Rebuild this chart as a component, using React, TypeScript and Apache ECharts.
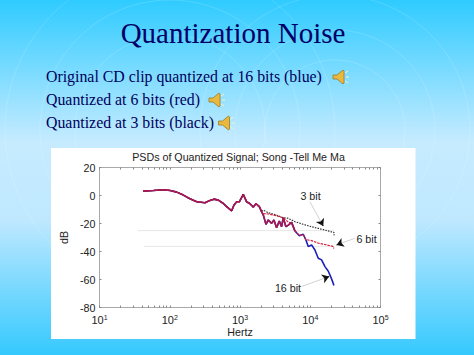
import React, { useEffect, useRef } from "react";
import * as echarts from "echarts";

const slideTitle = "Quantization Noise";
const bullets = [
  "Original CD clip quantized at 16 bits (blue)",
  "Quantized at 6 bits (red)",
  "Quantized at 3 bits (black)",
];
const chartTitle = "PSDs of Quantized Signal; Song -Tell Me Ma";
const xName = "Hertz";
const yName = "dB";
const xTickValues = [
  10, 20, 30, 40, 50, 60, 70, 80, 90,
  100, 200, 300, 400, 500, 600, 700, 800, 900,
  1000, 2000, 3000, 4000, 5000, 6000, 7000, 8000, 9000,
  10000, 20000, 30000, 40000, 50000, 60000, 70000, 80000, 90000, 100000,
];

const sharedLow: [number, number][] = [
  [42, 3.1], [59, 3.6], [81, 4.1], [101, 3.6], [126, 2.4], [156, 0.3], [194, -2.3], [242, -4.5],
  [318, -5.2], [374, -3.5], [427, -2.6], [492, -3.3], [579, -5.7], [646, -8], [761, -10.9],
  [822, -6.8], [897, -4.5], [978, -4.5], [1114, 0.8], [1243, -4.5], [1388, -5.9], [1549, -8.3],
  [1688, -5.9], [1884, -8], [2032, -11.6],
];
const tail16: [number, number][] = [
  [2148, -14], [2344, -20.6], [2529, -17.5], [2820, -19.9], [3041, -17.5], [3319, -23], [3623, -18.2],
  [3909, -22.3], [4130, -15.9], [4505, -22.3], [4865, -21.1], [5430, -19.2], [6050, -25.4], [6980, -28.7],
  [7950, -27.7], [8670, -31.8], [9370, -36.5], [10450, -35.3], [11650, -38.9], [13000, -44.8],
  [14500, -46], [16200, -50.8], [18000, -53.9], [19500, -57.9], [20800, -61.5], [21700, -64.3],
];
const tail6: [number, number][] = [
  [2148, -13], [2529, -13.2], [3319, -14.5], [4130, -16], [4865, -19], [5430, -20], [6050, -25], [6980, -28.5],
  [7950, -28], [8670, -31.5], [10450, -32.2], [13000, -34], [16200, -35], [19500, -36], [21000, -36.3], [21700, -37.8],
];
const tail3: [number, number][] = [
  [2148, -10.4], [2529, -12.3], [3319, -14], [4130, -15.9], [4865, -16.3], [6050, -18.7], [7950, -20.6],
  [10450, -22.3], [13000, -23.5], [16200, -24.7], [19500, -25.8], [21700, -26.3], [21900, -28.5],
];
const noiseFloor6 = [[35, -25.1], [21700, -25.1]];
const noiseFloor3 = [[43, -36.3], [21700, -36.3]];
const leaders = [
  { from: [9900, -4.5], to: [15300, -21.8] },
  { from: [43100, -30.6], to: [23700, -35.3] },
  { from: [7530, -65], to: [18600, -57.9] },
];
const heads = [
  { from: [14370, -19.3], to: [15300, -21.8] },
  { from: [26800, -34.3], to: [23700, -35.3] },
  { from: [16400, -58.9], to: [18600, -57.9] },
];
const annotations = [
  { text: "3 bit", x: 310.5, y: 195.5 },
  { text: "6 bit", x: 366.5, y: 239 },
  { text: "16 bit", x: 288, y: 288 },
];
const speakers = [[333, 70], [209, 93], [218.5, 116]];

echarts.graphic.registerShape(
  "speakerBody",
  echarts.graphic.extendPath("M0 5 L4 5 L10 0 L11 1 L11 13 L10 14 L4 9 L0 9 Z", {}) as any
);

const speakerGraphic = ([x, y]: number[]) => ({
  type: "group",
  x,
  y,
  children: [
    { type: "speakerBody", style: { fill: "#e8b93c", stroke: "#9a7a30", lineWidth: 0.8 } },
    { type: "line", shape: { x1: 12, y1: 3, x2: 15, y2: 1 }, style: { stroke: "#eef6d0", lineWidth: 1 } },
    { type: "line", shape: { x1: 13, y1: 7, x2: 16, y2: 7 }, style: { stroke: "#eef6d0", lineWidth: 1 } },
    { type: "line", shape: { x1: 12, y1: 11, x2: 15, y2: 13 }, style: { stroke: "#eef6d0", lineWidth: 1 } },
  ],
});

const rings = [
  [170, 130, 165], [170, 130, 130], [170, 130, 95],
  [335, 130, 135], [335, 130, 100], [335, 130, 70],
].map(([cx, cy, r]) => ({
  type: "circle",
  silent: true,
  shape: { cx, cy, r },
  style: { fill: "transparent", stroke: "rgba(255,255,255,0.15)", lineWidth: 1 },
}));

const FONT = "'Liberation Sans', Arial, sans-serif";
const SERIF = "'Liberation Serif', 'Times New Roman', serif";
const GREY = "#a9a9a9";

const sup = (v: number) => `{b|10}{s|${Math.round(Math.log10(v))}}`;

const lineSeries = (name: string, data: number[][], color: string, width: number, extra: object = {}) => ({
  name,
  type: "line",
  data,
  symbol: "none",
  silent: true,
  lineStyle: { color, width },
  ...extra,
});

const arrowLayer = (items: { from: number[]; to: number[] }[], color: string, symbol: string[], symbolSize: number) => ({
  type: "line",
  data: [],
  silent: true,
  markLine: {
    silent: true,
    animation: false,
    symbol,
    symbolSize,
    label: { show: false },
    lineStyle: { color, width: 1, type: "solid" },
    data: items.map((a) => [{ coord: a.from }, { coord: a.to }]),
  },
});

export default function App() {
  const ref = useRef<HTMLDivElement>(null);
  useEffect(() => {
    document.body.style.margin = "0";
    const chart = echarts.init(ref.current!, undefined, { renderer: "svg" });
    const axisBase = {
      type: "log" as const,
      min: 10,
      max: 100000,
      logBase: 10,
      axisLine: { show: true, onZero: false, lineStyle: { color: GREY, width: 1 } },
      splitLine: { show: false },
    };
    const valBase = {
      type: "value" as const,
      min: -80,
      max: 20,
      interval: 20,
      axisLine: { show: true, onZero: false, lineStyle: { color: GREY, width: 1 } },
      axisTick: { show: true, inside: true, length: 2, lineStyle: { color: "#888" } },
      splitLine: { show: false },
    };
    const xTicks = {
      axisTick: { show: true, inside: true, length: 2, customValues: xTickValues, lineStyle: { color: "#888" } },
    };
    chart.setOption({
      animation: false,
      backgroundColor: {
        type: "linear", x: 0, y: 0, x2: 0, y2: 1,
        colorStops: [
          { offset: 0, color: "#2fcbff" },
          { offset: 0.4, color: "#c6ebff" },
          { offset: 0.62, color: "#bfe8ff" },
          { offset: 1, color: "#35c9fd" },
        ],
      },
      title: {
        text: chartTitle,
        left: 233.5,
        top: 146,
        textAlign: "center",
        textStyle: { fontFamily: FONT, fontSize: 10.7, fontWeight: "normal", color: "#222" },
      },
      grid: { left: 99.5, right: 93.5, top: 167.5, bottom: 47.5, containLabel: false },
      xAxis: [
        {
          ...axisBase,
          ...xTicks,
          position: "bottom",
          name: xName,
          nameLocation: "middle",
          nameGap: 18,
          nameTextStyle: { fontFamily: FONT, fontSize: 10.7, color: "#222" },
          axisLabel: {
            margin: 6,
            formatter: sup,
            hideOverlap: false,
            rich: {
              b: { fontFamily: FONT, fontSize: 11, color: "#222" },
              s: { fontFamily: FONT, fontSize: 7, color: "#222", verticalAlign: "top", padding: [0, 0, 6, 0] },
            },
          },
        },
        { ...axisBase, ...xTicks, position: "top", axisLabel: { show: false } },
      ],
      yAxis: [
        {
          ...valBase,
          position: "left",
          name: yName,
          nameLocation: "middle",
          nameGap: 9,
          nameTextStyle: { fontFamily: FONT, fontSize: 10.7, color: "#222" },
          axisLabel: { margin: 4, fontFamily: FONT, fontSize: 10.7, color: "#222" },
        },
        { ...valBase, position: "right", axisLabel: { show: false } },
      ],
      series: [
        lineSeries("floor6", noiseFloor6, "#e6e6e6", 1),
        lineSeries("floor3", noiseFloor3, "#e6e6e6", 1),
        lineSeries("16 bit", [...sharedLow, ...tail16], "#1b1fb8", 1.6),
        lineSeries("3 bit", [...sharedLow, ...tail3], "#222222", 1.1, {
          lineStyle: { color: "#222", width: 1.1, type: [1.5, 1.2] },
        }),
        lineSeries("6 bit", [...sharedLow, ...tail6], "#d8203a", 1.2, {
          lineStyle: { color: "#d8203a", width: 1.2, type: [2.5, 1] },
        }),
        lineSeries("16 bit overlap", [...sharedLow, ...tail16.slice(0, 13)], "#a8174f", 1.6),
        arrowLayer(leaders, "#d2d2d2", ["none", "none"], 0),
        arrowLayer(heads, "#111111", ["none", "arrow"], 7),
      ],
      graphic: [
        ...rings,
        {
          type: "rect",
          z: -1,
          shape: { x: 51, y: 148, width: 364.5, height: 191 },
          style: { fill: "#ffffff" },
        },
        {
          type: "text",
          x: 233,
          y: 33,
          style: {
            text: slideTitle,
            fontFamily: SERIF,
            fontSize: 29,
            fill: "#000066",
            align: "center",
            verticalAlign: "middle",
          },
        },
        ...bullets.map((text, i) => ({
          type: "text",
          x: 46,
          y: 76.5 + i * 23,
          style: { text, fontFamily: SERIF, fontSize: 15.85, fill: "#00005c", verticalAlign: "middle" },
        })),
        ...speakers.map(speakerGraphic),
        ...annotations.map((a) => ({
          type: "text",
          x: a.x,
          y: a.y,
          z: 50,
          style: {
            text: a.text,
            fontFamily: FONT,
            fontSize: 10.7,
            fill: "#222",
            align: "center",
            verticalAlign: "middle",
          },
        })),
      ],
    });
    return () => chart.dispose();
  }, []);
  return <div ref={ref} style={{ width: 474, height: 355 }} />;
}
